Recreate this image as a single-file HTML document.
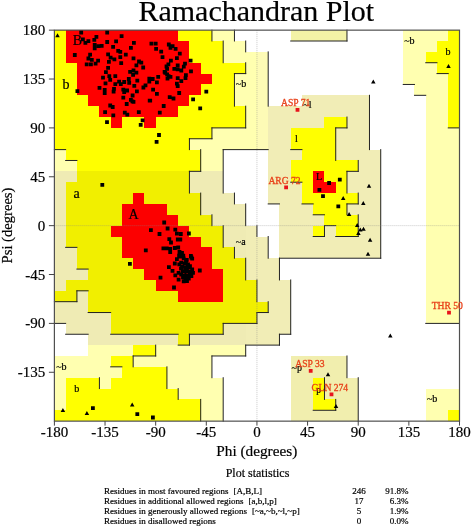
<!DOCTYPE html>
<html><head><meta charset="utf-8"><title>Ramachandran Plot</title>
<style>html,body{margin:0;padding:0;background:#fff}body{width:472px;height:528px;position:relative;overflow:hidden}</style>
</head><body>
<svg width="472" height="528" viewBox="0 0 472 528" style="position:absolute;left:0;top:0">
<rect x="0" y="0" width="472" height="528" fill="#fff"/>
<g shape-rendering="crispEdges">
<rect x="54.40" y="30.15" width="11.25" height="10.86" fill="#ffff00"/>
<rect x="65.65" y="30.15" width="112.53" height="10.86" fill="#ff0000"/>
<rect x="178.18" y="30.15" width="33.76" height="10.86" fill="#ffff00"/>
<rect x="211.94" y="30.15" width="22.51" height="10.86" fill="#ffffb0"/>
<rect x="290.71" y="30.15" width="56.26" height="10.86" fill="#f3f2a6"/>
<rect x="403.24" y="30.15" width="45.01" height="10.86" fill="#ffffb0"/>
<rect x="448.25" y="30.15" width="11.25" height="10.86" fill="#ffff00"/>
<rect x="54.40" y="41.01" width="11.25" height="10.86" fill="#ffff00"/>
<rect x="65.65" y="41.01" width="123.78" height="10.86" fill="#ff0000"/>
<rect x="189.43" y="41.01" width="33.76" height="10.86" fill="#ffff00"/>
<rect x="223.19" y="41.01" width="22.51" height="10.86" fill="#ffffb0"/>
<rect x="403.24" y="41.01" width="33.76" height="10.86" fill="#ffffb0"/>
<rect x="436.99" y="41.01" width="22.51" height="10.86" fill="#ffff00"/>
<rect x="54.40" y="51.87" width="11.25" height="10.86" fill="#ffff00"/>
<rect x="65.65" y="51.87" width="123.78" height="10.86" fill="#ff0000"/>
<rect x="189.43" y="51.87" width="33.76" height="10.86" fill="#ffff00"/>
<rect x="223.19" y="51.87" width="33.76" height="10.86" fill="#ffffb0"/>
<rect x="256.95" y="51.87" width="11.25" height="10.86" fill="#fdfbb6"/>
<rect x="403.24" y="51.87" width="22.51" height="10.86" fill="#ffffb0"/>
<rect x="425.74" y="51.87" width="33.76" height="10.86" fill="#ffff00"/>
<rect x="54.40" y="62.73" width="22.51" height="10.86" fill="#ffff00"/>
<rect x="76.91" y="62.73" width="123.78" height="10.86" fill="#ff0000"/>
<rect x="200.69" y="62.73" width="45.01" height="10.86" fill="#ffff00"/>
<rect x="245.70" y="62.73" width="11.25" height="10.86" fill="#ffffb0"/>
<rect x="256.95" y="62.73" width="11.25" height="10.86" fill="#fdfbb6"/>
<rect x="403.24" y="62.73" width="33.76" height="10.86" fill="#ffffb0"/>
<rect x="436.99" y="62.73" width="22.51" height="10.86" fill="#ffff00"/>
<rect x="54.40" y="73.59" width="22.51" height="10.86" fill="#ffff00"/>
<rect x="76.91" y="73.59" width="135.03" height="10.86" fill="#ff0000"/>
<rect x="211.94" y="73.59" width="22.51" height="10.86" fill="#ffff00"/>
<rect x="234.44" y="73.59" width="22.51" height="10.86" fill="#ffffb0"/>
<rect x="256.95" y="73.59" width="11.25" height="10.86" fill="#fdfbb6"/>
<rect x="403.24" y="73.59" width="45.01" height="10.86" fill="#ffffb0"/>
<rect x="448.25" y="73.59" width="11.25" height="10.86" fill="#ffff00"/>
<rect x="54.40" y="84.46" width="22.51" height="10.86" fill="#ffff00"/>
<rect x="76.91" y="84.46" width="123.78" height="10.86" fill="#ff0000"/>
<rect x="200.69" y="84.46" width="33.76" height="10.86" fill="#ffff00"/>
<rect x="234.44" y="84.46" width="22.51" height="10.86" fill="#ffffb0"/>
<rect x="256.95" y="84.46" width="11.25" height="10.86" fill="#fdfbb6"/>
<rect x="414.49" y="84.46" width="33.76" height="10.86" fill="#ffffb0"/>
<rect x="448.25" y="84.46" width="11.25" height="10.86" fill="#ffff00"/>
<rect x="54.40" y="95.32" width="33.76" height="10.86" fill="#ffff00"/>
<rect x="88.16" y="95.32" width="101.28" height="10.86" fill="#ff0000"/>
<rect x="189.43" y="95.32" width="45.01" height="10.86" fill="#ffff00"/>
<rect x="234.44" y="95.32" width="22.51" height="10.86" fill="#ffffb0"/>
<rect x="256.95" y="95.32" width="11.25" height="10.86" fill="#fdfbb6"/>
<rect x="301.96" y="95.32" width="67.52" height="10.86" fill="#f1edb6"/>
<rect x="425.74" y="95.32" width="22.51" height="10.86" fill="#ffffb0"/>
<rect x="448.25" y="95.32" width="11.25" height="10.86" fill="#ffff00"/>
<rect x="54.40" y="106.18" width="45.01" height="10.86" fill="#ffff00"/>
<rect x="99.41" y="106.18" width="78.77" height="10.86" fill="#ff0000"/>
<rect x="178.18" y="106.18" width="67.52" height="10.86" fill="#ffff00"/>
<rect x="245.70" y="106.18" width="11.25" height="10.86" fill="#ffffb0"/>
<rect x="256.95" y="106.18" width="11.25" height="10.86" fill="#fdfbb6"/>
<rect x="268.20" y="106.18" width="101.28" height="10.86" fill="#f1edb6"/>
<rect x="425.74" y="106.18" width="22.51" height="10.86" fill="#ffffb0"/>
<rect x="448.25" y="106.18" width="11.25" height="10.86" fill="#ffff00"/>
<rect x="54.40" y="117.04" width="56.26" height="10.86" fill="#ffff00"/>
<rect x="110.66" y="117.04" width="11.25" height="10.86" fill="#ff0000"/>
<rect x="121.92" y="117.04" width="22.51" height="10.86" fill="#ffff00"/>
<rect x="144.42" y="117.04" width="11.25" height="10.86" fill="#ff0000"/>
<rect x="155.68" y="117.04" width="90.02" height="10.86" fill="#ffff00"/>
<rect x="245.70" y="117.04" width="11.25" height="10.86" fill="#ffffb0"/>
<rect x="256.95" y="117.04" width="11.25" height="10.86" fill="#fdfbb6"/>
<rect x="268.20" y="117.04" width="56.26" height="10.86" fill="#f1edb6"/>
<rect x="324.47" y="117.04" width="22.51" height="10.86" fill="#ffff00"/>
<rect x="346.97" y="117.04" width="22.51" height="10.86" fill="#f1edb6"/>
<rect x="425.74" y="117.04" width="22.51" height="10.86" fill="#ffffb0"/>
<rect x="448.25" y="117.04" width="11.25" height="10.86" fill="#ffff00"/>
<rect x="54.40" y="127.90" width="157.54" height="10.86" fill="#ffff00"/>
<rect x="211.94" y="127.90" width="45.01" height="10.86" fill="#ffffb0"/>
<rect x="256.95" y="127.90" width="11.25" height="10.86" fill="#fdfbb6"/>
<rect x="268.20" y="127.90" width="22.51" height="10.86" fill="#f1edb6"/>
<rect x="290.71" y="127.90" width="45.01" height="10.86" fill="#ffff00"/>
<rect x="335.72" y="127.90" width="33.76" height="10.86" fill="#f1edb6"/>
<rect x="425.74" y="127.90" width="33.76" height="10.86" fill="#ffffb0"/>
<rect x="54.40" y="138.76" width="135.03" height="10.86" fill="#ffff00"/>
<rect x="189.43" y="138.76" width="67.52" height="10.86" fill="#ffffb0"/>
<rect x="256.95" y="138.76" width="11.25" height="10.86" fill="#fdfbb6"/>
<rect x="268.20" y="138.76" width="22.51" height="10.86" fill="#f1edb6"/>
<rect x="290.71" y="138.76" width="45.01" height="10.86" fill="#ffff00"/>
<rect x="335.72" y="138.76" width="33.76" height="10.86" fill="#f1edb6"/>
<rect x="425.74" y="138.76" width="33.76" height="10.86" fill="#ffffb0"/>
<rect x="54.40" y="149.62" width="11.25" height="10.86" fill="#ffffb0"/>
<rect x="65.65" y="149.62" width="135.03" height="10.86" fill="#ffff00"/>
<rect x="200.69" y="149.62" width="22.51" height="10.86" fill="#ffffb0"/>
<rect x="268.20" y="149.62" width="33.76" height="10.86" fill="#f1edb6"/>
<rect x="301.96" y="149.62" width="33.76" height="10.86" fill="#ffff00"/>
<rect x="335.72" y="149.62" width="45.01" height="10.86" fill="#f1edb6"/>
<rect x="425.74" y="149.62" width="33.76" height="10.86" fill="#ffffb0"/>
<rect x="54.40" y="160.48" width="22.51" height="10.86" fill="#ffffb0"/>
<rect x="76.91" y="160.48" width="123.78" height="10.86" fill="#ffff00"/>
<rect x="200.69" y="160.48" width="22.51" height="10.86" fill="#ffffb0"/>
<rect x="268.20" y="160.48" width="22.51" height="10.86" fill="#f1edb6"/>
<rect x="290.71" y="160.48" width="67.52" height="10.86" fill="#ffff00"/>
<rect x="358.22" y="160.48" width="22.51" height="10.86" fill="#f1edb6"/>
<rect x="425.74" y="160.48" width="33.76" height="10.86" fill="#ffffb0"/>
<rect x="54.40" y="171.34" width="22.51" height="10.86" fill="#efebb4"/>
<rect x="76.91" y="171.34" width="112.53" height="10.86" fill="#f1ef00"/>
<rect x="189.43" y="171.34" width="33.76" height="10.86" fill="#efebb4"/>
<rect x="268.20" y="171.34" width="22.51" height="10.86" fill="#f1edb6"/>
<rect x="290.71" y="171.34" width="22.51" height="10.86" fill="#ffff00"/>
<rect x="313.21" y="171.34" width="11.25" height="10.86" fill="#ff0000"/>
<rect x="324.47" y="171.34" width="22.51" height="10.86" fill="#ffff00"/>
<rect x="346.97" y="171.34" width="33.76" height="10.86" fill="#f1edb6"/>
<rect x="425.74" y="171.34" width="33.76" height="10.86" fill="#ffffb0"/>
<rect x="54.40" y="182.21" width="11.25" height="10.86" fill="#efebb4"/>
<rect x="65.65" y="182.21" width="123.78" height="10.86" fill="#f1ef00"/>
<rect x="189.43" y="182.21" width="33.76" height="10.86" fill="#efebb4"/>
<rect x="268.20" y="182.21" width="33.76" height="10.86" fill="#f1edb6"/>
<rect x="301.96" y="182.21" width="11.25" height="10.86" fill="#ffff00"/>
<rect x="313.21" y="182.21" width="22.51" height="10.86" fill="#ff0000"/>
<rect x="335.72" y="182.21" width="11.25" height="10.86" fill="#ffff00"/>
<rect x="346.97" y="182.21" width="33.76" height="10.86" fill="#f1edb6"/>
<rect x="425.74" y="182.21" width="33.76" height="10.86" fill="#ffffb0"/>
<rect x="54.40" y="193.07" width="11.25" height="10.86" fill="#efebb4"/>
<rect x="65.65" y="193.07" width="67.52" height="10.86" fill="#f1ef00"/>
<rect x="133.17" y="193.07" width="11.25" height="10.86" fill="#fc0000"/>
<rect x="144.42" y="193.07" width="56.26" height="10.86" fill="#f1ef00"/>
<rect x="200.69" y="193.07" width="33.76" height="10.86" fill="#efebb4"/>
<rect x="268.20" y="193.07" width="33.76" height="10.86" fill="#f1edb6"/>
<rect x="301.96" y="193.07" width="56.26" height="10.86" fill="#ffff00"/>
<rect x="358.22" y="193.07" width="22.51" height="10.86" fill="#f1edb6"/>
<rect x="425.74" y="193.07" width="33.76" height="10.86" fill="#ffffb0"/>
<rect x="54.40" y="203.93" width="11.25" height="10.86" fill="#efebb4"/>
<rect x="65.65" y="203.93" width="56.26" height="10.86" fill="#f1ef00"/>
<rect x="121.92" y="203.93" width="45.01" height="10.86" fill="#fc0000"/>
<rect x="166.93" y="203.93" width="33.76" height="10.86" fill="#f1ef00"/>
<rect x="200.69" y="203.93" width="45.01" height="10.86" fill="#efebb4"/>
<rect x="279.46" y="203.93" width="33.76" height="10.86" fill="#f1edb6"/>
<rect x="313.21" y="203.93" width="33.76" height="10.86" fill="#ffff00"/>
<rect x="346.97" y="203.93" width="33.76" height="10.86" fill="#f1edb6"/>
<rect x="425.74" y="203.93" width="33.76" height="10.86" fill="#ffffb0"/>
<rect x="54.40" y="214.79" width="11.25" height="10.86" fill="#efebb4"/>
<rect x="65.65" y="214.79" width="56.26" height="10.86" fill="#f1ef00"/>
<rect x="121.92" y="214.79" width="56.26" height="10.86" fill="#fc0000"/>
<rect x="178.18" y="214.79" width="33.76" height="10.86" fill="#f1ef00"/>
<rect x="211.94" y="214.79" width="33.76" height="10.86" fill="#efebb4"/>
<rect x="279.46" y="214.79" width="45.01" height="10.86" fill="#f1edb6"/>
<rect x="324.47" y="214.79" width="33.76" height="10.86" fill="#ffff00"/>
<rect x="358.22" y="214.79" width="22.51" height="10.86" fill="#f1edb6"/>
<rect x="425.74" y="214.79" width="33.76" height="10.86" fill="#ffffb0"/>
<rect x="54.40" y="225.65" width="11.25" height="10.86" fill="#efebb4"/>
<rect x="65.65" y="225.65" width="45.01" height="10.86" fill="#f1ef00"/>
<rect x="110.66" y="225.65" width="78.77" height="10.86" fill="#fc0000"/>
<rect x="189.43" y="225.65" width="33.76" height="10.86" fill="#f1ef00"/>
<rect x="223.19" y="225.65" width="22.51" height="10.86" fill="#efebb4"/>
<rect x="245.70" y="225.65" width="11.25" height="10.86" fill="#f1edb6"/>
<rect x="279.46" y="225.65" width="33.76" height="10.86" fill="#f1edb6"/>
<rect x="313.21" y="225.65" width="11.25" height="10.86" fill="#ffff00"/>
<rect x="324.47" y="225.65" width="11.25" height="10.86" fill="#f1edb6"/>
<rect x="335.72" y="225.65" width="22.51" height="10.86" fill="#ffff00"/>
<rect x="358.22" y="225.65" width="22.51" height="10.86" fill="#f1edb6"/>
<rect x="425.74" y="225.65" width="33.76" height="10.86" fill="#ffffb0"/>
<rect x="54.40" y="236.51" width="11.25" height="10.86" fill="#efebb4"/>
<rect x="65.65" y="236.51" width="56.26" height="10.86" fill="#f1ef00"/>
<rect x="121.92" y="236.51" width="78.77" height="10.86" fill="#fc0000"/>
<rect x="200.69" y="236.51" width="22.51" height="10.86" fill="#f1ef00"/>
<rect x="223.19" y="236.51" width="22.51" height="10.86" fill="#efebb4"/>
<rect x="245.70" y="236.51" width="22.51" height="10.86" fill="#f1edb6"/>
<rect x="279.46" y="236.51" width="101.28" height="10.86" fill="#f1edb6"/>
<rect x="425.74" y="236.51" width="33.76" height="10.86" fill="#ffffb0"/>
<rect x="54.40" y="247.37" width="22.51" height="10.86" fill="#efebb4"/>
<rect x="76.91" y="247.37" width="45.01" height="10.86" fill="#f1ef00"/>
<rect x="121.92" y="247.37" width="90.02" height="10.86" fill="#fc0000"/>
<rect x="211.94" y="247.37" width="22.51" height="10.86" fill="#f1ef00"/>
<rect x="234.44" y="247.37" width="11.25" height="10.86" fill="#efebb4"/>
<rect x="245.70" y="247.37" width="22.51" height="10.86" fill="#f1edb6"/>
<rect x="279.46" y="247.37" width="101.28" height="10.86" fill="#f1edb6"/>
<rect x="425.74" y="247.37" width="33.76" height="10.86" fill="#ffffb0"/>
<rect x="54.40" y="258.23" width="22.51" height="10.86" fill="#efebb4"/>
<rect x="76.91" y="258.23" width="56.26" height="10.86" fill="#f1ef00"/>
<rect x="133.17" y="258.23" width="78.77" height="10.86" fill="#fc0000"/>
<rect x="211.94" y="258.23" width="33.76" height="10.86" fill="#f1ef00"/>
<rect x="245.70" y="258.23" width="33.76" height="10.86" fill="#f1edb6"/>
<rect x="425.74" y="258.23" width="33.76" height="10.86" fill="#ffffb0"/>
<rect x="54.40" y="269.09" width="33.76" height="10.86" fill="#efebb4"/>
<rect x="88.16" y="269.09" width="56.26" height="10.86" fill="#f1ef00"/>
<rect x="144.42" y="269.09" width="78.77" height="10.86" fill="#fc0000"/>
<rect x="223.19" y="269.09" width="22.51" height="10.86" fill="#f1ef00"/>
<rect x="245.70" y="269.09" width="33.76" height="10.86" fill="#f1edb6"/>
<rect x="425.74" y="269.09" width="33.76" height="10.86" fill="#ffffb0"/>
<rect x="54.40" y="279.96" width="11.25" height="10.86" fill="#efebb4"/>
<rect x="65.65" y="279.96" width="90.02" height="10.86" fill="#f1ef00"/>
<rect x="155.68" y="279.96" width="67.52" height="10.86" fill="#fc0000"/>
<rect x="223.19" y="279.96" width="33.76" height="10.86" fill="#f1ef00"/>
<rect x="256.95" y="279.96" width="33.76" height="10.86" fill="#f1edb6"/>
<rect x="425.74" y="279.96" width="33.76" height="10.86" fill="#ffffb0"/>
<rect x="54.40" y="290.82" width="22.51" height="10.86" fill="#f1ef00"/>
<rect x="76.91" y="290.82" width="11.25" height="10.86" fill="#efebb4"/>
<rect x="88.16" y="290.82" width="90.02" height="10.86" fill="#f1ef00"/>
<rect x="178.18" y="290.82" width="45.01" height="10.86" fill="#fc0000"/>
<rect x="223.19" y="290.82" width="33.76" height="10.86" fill="#f1ef00"/>
<rect x="256.95" y="290.82" width="33.76" height="10.86" fill="#f1edb6"/>
<rect x="425.74" y="290.82" width="33.76" height="10.86" fill="#ffffb0"/>
<rect x="54.40" y="301.68" width="33.76" height="10.86" fill="#efebb4"/>
<rect x="88.16" y="301.68" width="180.04" height="10.86" fill="#f1ef00"/>
<rect x="268.20" y="301.68" width="22.51" height="10.86" fill="#f1edb6"/>
<rect x="425.74" y="301.68" width="33.76" height="10.86" fill="#ffffb0"/>
<rect x="54.40" y="312.54" width="56.26" height="10.86" fill="#efebb4"/>
<rect x="110.66" y="312.54" width="146.29" height="10.86" fill="#f1ef00"/>
<rect x="256.95" y="312.54" width="33.76" height="10.86" fill="#f1edb6"/>
<rect x="425.74" y="312.54" width="33.76" height="10.86" fill="#ffffb0"/>
<rect x="65.65" y="323.40" width="45.01" height="10.86" fill="#efebb4"/>
<rect x="110.66" y="323.40" width="112.53" height="10.86" fill="#f1ef00"/>
<rect x="223.19" y="323.40" width="22.51" height="10.86" fill="#efebb4"/>
<rect x="245.70" y="323.40" width="45.01" height="10.86" fill="#f1edb6"/>
<rect x="88.16" y="334.26" width="90.02" height="10.86" fill="#efebb4"/>
<rect x="178.18" y="334.26" width="11.25" height="10.86" fill="#f1ef00"/>
<rect x="189.43" y="334.26" width="56.26" height="10.86" fill="#efebb4"/>
<rect x="245.70" y="334.26" width="33.76" height="10.86" fill="#f1edb6"/>
<rect x="88.16" y="345.12" width="45.01" height="10.86" fill="#ffffb0"/>
<rect x="133.17" y="345.12" width="22.51" height="10.86" fill="#ffff00"/>
<rect x="155.68" y="345.12" width="90.02" height="10.86" fill="#ffffb0"/>
<rect x="54.40" y="355.98" width="56.26" height="10.86" fill="#ffffb0"/>
<rect x="110.66" y="355.98" width="22.51" height="10.86" fill="#ffff00"/>
<rect x="133.17" y="355.98" width="78.77" height="10.86" fill="#ffffb0"/>
<rect x="290.71" y="355.98" width="56.26" height="10.86" fill="#f1eeae"/>
<rect x="54.40" y="366.84" width="67.52" height="10.86" fill="#ffffb0"/>
<rect x="121.92" y="366.84" width="45.01" height="10.86" fill="#ffff00"/>
<rect x="166.93" y="366.84" width="45.01" height="10.86" fill="#ffffb0"/>
<rect x="290.71" y="366.84" width="56.26" height="10.86" fill="#f1eeae"/>
<rect x="54.40" y="377.71" width="11.25" height="10.86" fill="#ffffb0"/>
<rect x="65.65" y="377.71" width="33.76" height="10.86" fill="#ffff00"/>
<rect x="99.41" y="377.71" width="11.25" height="10.86" fill="#ffffb0"/>
<rect x="110.66" y="377.71" width="56.26" height="10.86" fill="#ffff00"/>
<rect x="166.93" y="377.71" width="56.26" height="10.86" fill="#ffffb0"/>
<rect x="290.71" y="377.71" width="22.51" height="10.86" fill="#f1eeae"/>
<rect x="313.21" y="377.71" width="11.25" height="10.86" fill="#ffff00"/>
<rect x="324.47" y="377.71" width="33.76" height="10.86" fill="#f1eeae"/>
<rect x="54.40" y="388.57" width="11.25" height="10.86" fill="#ffffb0"/>
<rect x="65.65" y="388.57" width="112.53" height="10.86" fill="#ffff00"/>
<rect x="178.18" y="388.57" width="45.01" height="10.86" fill="#ffffb0"/>
<rect x="290.71" y="388.57" width="22.51" height="10.86" fill="#f1eeae"/>
<rect x="313.21" y="388.57" width="11.25" height="10.86" fill="#ffff00"/>
<rect x="324.47" y="388.57" width="33.76" height="10.86" fill="#f1eeae"/>
<rect x="425.74" y="388.57" width="33.76" height="10.86" fill="#ffffb0"/>
<rect x="54.40" y="399.43" width="11.25" height="10.86" fill="#ffffb0"/>
<rect x="65.65" y="399.43" width="135.03" height="10.86" fill="#ffff00"/>
<rect x="200.69" y="399.43" width="22.51" height="10.86" fill="#ffffb0"/>
<rect x="290.71" y="399.43" width="22.51" height="10.86" fill="#f1eeae"/>
<rect x="313.21" y="399.43" width="22.51" height="10.86" fill="#ffff00"/>
<rect x="335.72" y="399.43" width="22.51" height="10.86" fill="#f1eeae"/>
<rect x="425.74" y="399.43" width="33.76" height="10.86" fill="#ffffb0"/>
<rect x="54.40" y="410.29" width="146.29" height="10.86" fill="#ffff00"/>
<rect x="200.69" y="410.29" width="22.51" height="10.86" fill="#ffffb0"/>
<rect x="290.71" y="410.29" width="67.52" height="10.86" fill="#f1eeae"/>
<rect x="425.74" y="410.29" width="22.51" height="10.86" fill="#ffffb0"/>
<rect x="448.25" y="410.29" width="11.25" height="10.86" fill="#ffff00"/>
</g>
<path d="M76.91 290.82V301.68M99.41 377.71V388.57M133.17 355.98V366.84M155.68 345.12V355.98M166.93 366.84V388.57M178.18 388.57V399.43M189.43 138.76V149.62M189.43 171.34V193.07M189.43 334.26V345.12M200.69 149.62V171.34M200.69 193.07V214.79M200.69 399.43V421.15M211.94 30.15V41.01M211.94 127.90V138.76M211.94 214.79V225.65M211.94 355.98V377.71M223.19 41.01V62.73M223.19 149.62V193.07M223.19 225.65V247.37M223.19 323.40V334.26M223.19 377.71V421.15M234.44 30.15V41.01M234.44 73.59V106.18M234.44 193.07V203.93M234.44 247.37V258.23M245.70 41.01V51.87M245.70 62.73V73.59M245.70 106.18V127.90M245.70 203.93V225.65M245.70 258.23V279.96M245.70 345.12V355.98M256.95 225.65V236.51M256.95 279.96V301.68M256.95 312.54V323.40M268.20 51.87V106.18M268.20 236.51V258.23M268.20 301.68V312.54M279.46 258.23V279.96M279.46 334.26V345.12M290.71 279.96V334.26M324.47 225.65V236.51M324.47 377.71V399.43M335.72 127.90V160.48M335.72 399.43V410.29M346.97 30.15V41.01M346.97 117.04V127.90M346.97 171.34V193.07M346.97 203.93V214.79M346.97 355.98V377.71M358.22 160.48V171.34M358.22 193.07V203.93M358.22 214.79V236.51M358.22 377.71V421.15M369.48 95.32V149.62M380.73 149.62V258.23M290.71 41.01H346.97M425.74 62.73H436.99M234.44 73.59H245.70M436.99 73.59H448.25M403.24 84.46H414.49M414.49 95.32H425.74M211.94 127.90H245.70M335.72 127.90H346.97M448.25 127.90H459.50M189.43 138.76H211.94M54.40 149.62H65.65M223.19 149.62H268.20M290.71 149.62H301.96M65.65 160.48H76.91M189.43 171.34H200.69M346.97 171.34H358.22M290.71 182.21H301.96M268.20 203.93H279.46M301.96 203.93H313.21M346.97 203.93H358.22M313.21 214.79H324.47M324.47 225.65H335.72M313.21 236.51H324.47M335.72 236.51H358.22M65.65 247.37H76.91M279.46 258.23H380.73M76.91 269.09H88.16M76.91 290.82H88.16M54.40 301.68H76.91M88.16 312.54H110.66M256.95 312.54H268.20M54.40 323.40H65.65M223.19 323.40H256.95M425.74 323.40H459.50M65.65 334.26H88.16M110.66 334.26H178.18M189.43 334.26H223.19M279.46 334.26H290.71M178.18 345.12H189.43M245.70 345.12H279.46M133.17 355.98H155.68M211.94 355.98H245.70M110.66 366.84H121.92M313.21 410.29H335.72" stroke="#222" stroke-width="1" fill="none" stroke-linecap="square"/>
<line x1="256.95" y1="30.15" x2="256.95" y2="421.15" stroke="#888" stroke-opacity="0.55" stroke-width="0.8" stroke-dasharray="1 1"/>
<line x1="54.4" y1="225.65" x2="459.5" y2="225.65" stroke="#888" stroke-opacity="0.55" stroke-width="0.8" stroke-dasharray="1 1"/>
<rect x="54.4" y="30.15" width="405.1" height="391" fill="none" stroke="#505050" stroke-width="1.2"/>
<path d="M48.90 30.15H54.4M54.40 421.15V425.65M48.90 79.03H54.4M105.04 421.15V425.65M48.90 127.90H54.4M155.68 421.15V425.65M48.90 176.78H54.4M206.31 421.15V425.65M48.90 225.65H54.4M256.95 421.15V425.65M48.90 274.52H54.4M307.59 421.15V425.65M48.90 323.40H54.4M358.23 421.15V425.65M48.90 372.27H54.4M408.86 421.15V425.65M459.50 421.15V425.65" stroke="#444" stroke-width="1" fill="none"/>
<path d="M79.3 30.8h3.8v3.8h-3.8zM81.0 37.5h3.8v3.8h-3.8zM83.5 40.9h3.8v3.8h-3.8zM86.5 39.2h3.8v3.8h-3.8zM92.4 38.0h3.8v3.8h-3.8zM94.5 35.0h3.8v3.8h-3.8zM92.8 43.0h3.8v3.8h-3.8zM92.8 46.4h3.8v3.8h-3.8zM96.7 44.3h3.8v3.8h-3.8zM72.9 53.1h3.8v3.8h-3.8zM88.2 52.8h3.8v3.8h-3.8zM86.5 56.6h3.8v3.8h-3.8zM89.9 57.9h3.8v3.8h-3.8zM84.8 62.5h3.8v3.8h-3.8zM89.0 62.5h3.8v3.8h-3.8zM93.7 61.7h3.8v3.8h-3.8zM96.2 58.7h3.8v3.8h-3.8zM105.3 30.8h3.8v3.8h-3.8zM119.7 34.2h3.8v3.8h-3.8zM105.3 40.1h3.8v3.8h-3.8zM114.2 39.5h3.8v3.8h-3.8zM132.0 40.9h3.8v3.8h-3.8zM99.8 43.9h3.8v3.8h-3.8zM111.2 44.9h3.8v3.8h-3.8zM129.0 46.0h3.8v3.8h-3.8zM116.3 49.0h3.8v3.8h-3.8zM118.4 49.9h3.8v3.8h-3.8zM106.2 52.4h3.8v3.8h-3.8zM123.9 52.8h3.8v3.8h-3.8zM108.7 55.8h3.8v3.8h-3.8zM118.4 55.3h3.8v3.8h-3.8zM112.5 57.5h3.8v3.8h-3.8zM131.6 56.4h3.8v3.8h-3.8zM107.0 60.0h3.8v3.8h-3.8zM119.3 61.3h3.8v3.8h-3.8zM137.1 59.6h3.8v3.8h-3.8zM134.5 63.4h3.8v3.8h-3.8zM106.2 65.9h3.8v3.8h-3.8zM149.5 41.8h3.8v3.8h-3.8zM153.8 41.8h3.8v3.8h-3.8zM154.2 46.9h3.8v3.8h-3.8zM159.3 49.7h3.8v3.8h-3.8zM160.6 55.3h3.8v3.8h-3.8zM166.9 42.6h3.8v3.8h-3.8zM168.6 46.0h3.8v3.8h-3.8zM173.7 46.9h3.8v3.8h-3.8zM170.7 44.3h3.8v3.8h-3.8zM177.9 51.7h3.8v3.8h-3.8zM175.0 56.2h3.8v3.8h-3.8zM169.0 58.7h3.8v3.8h-3.8zM166.5 62.5h3.8v3.8h-3.8zM139.4 60.8h3.8v3.8h-3.8zM141.3 65.6h3.8v3.8h-3.8zM175.8 63.4h3.8v3.8h-3.8zM75.5 89.2h3.8v3.8h-3.8zM97.6 85.9h3.8v3.8h-3.8zM104.0 70.3h3.8v3.8h-3.8zM101.1 75.8h3.8v3.8h-3.8zM107.4 74.2h3.8v3.8h-3.8zM108.3 78.0h3.8v3.8h-3.8zM113.4 74.2h3.8v3.8h-3.8zM103.6 81.4h3.8v3.8h-3.8zM113.4 82.2h3.8v3.8h-3.8zM117.2 79.7h3.8v3.8h-3.8zM118.9 82.2h3.8v3.8h-3.8zM122.3 80.1h3.8v3.8h-3.8zM126.9 77.1h3.8v3.8h-3.8zM127.3 80.9h3.8v3.8h-3.8zM128.2 69.9h3.8v3.8h-3.8zM131.6 68.6h3.8v3.8h-3.8zM134.5 70.8h3.8v3.8h-3.8zM131.2 72.9h3.8v3.8h-3.8zM135.4 78.8h3.8v3.8h-3.8zM132.4 83.9h3.8v3.8h-3.8zM102.8 88.1h3.8v3.8h-3.8zM102.8 91.1h3.8v3.8h-3.8zM112.1 86.9h3.8v3.8h-3.8zM111.7 89.8h3.8v3.8h-3.8zM121.4 87.7h3.8v3.8h-3.8zM122.3 90.3h3.8v3.8h-3.8zM125.2 88.6h3.8v3.8h-3.8zM135.0 89.4h3.8v3.8h-3.8zM121.4 95.8h3.8v3.8h-3.8zM130.7 93.6h3.8v3.8h-3.8zM129.0 97.9h3.8v3.8h-3.8zM131.6 100.0h3.8v3.8h-3.8zM124.8 102.1h3.8v3.8h-3.8zM108.3 103.6h3.8v3.8h-3.8zM110.8 105.1h3.8v3.8h-3.8zM165.2 66.9h3.8v3.8h-3.8zM162.7 69.9h3.8v3.8h-3.8zM165.2 72.5h3.8v3.8h-3.8zM172.4 66.9h3.8v3.8h-3.8zM175.8 67.4h3.8v3.8h-3.8zM156.3 75.0h3.8v3.8h-3.8zM168.6 75.0h3.8v3.8h-3.8zM165.6 76.7h3.8v3.8h-3.8zM175.8 76.3h3.8v3.8h-3.8zM147.4 76.7h3.8v3.8h-3.8zM150.8 77.1h3.8v3.8h-3.8zM147.4 79.7h3.8v3.8h-3.8zM155.0 80.5h3.8v3.8h-3.8zM175.0 81.8h3.8v3.8h-3.8zM175.8 84.3h3.8v3.8h-3.8zM143.6 83.5h3.8v3.8h-3.8zM141.5 85.6h3.8v3.8h-3.8zM151.2 87.7h3.8v3.8h-3.8zM155.0 91.9h3.8v3.8h-3.8zM177.3 91.1h3.8v3.8h-3.8zM167.8 95.3h3.8v3.8h-3.8zM171.6 96.6h3.8v3.8h-3.8zM147.8 98.7h3.8v3.8h-3.8zM161.8 104.1h3.8v3.8h-3.8zM188.7 58.7h3.8v3.8h-3.8zM183.1 61.7h3.8v3.8h-3.8zM181.9 64.7h3.8v3.8h-3.8zM204.4 89.8h3.8v3.8h-3.8zM191.2 97.4h3.8v3.8h-3.8zM198.3 106.5h3.8v3.8h-3.8zM189.1 69.5h3.8v3.8h-3.8zM184.0 73.3h3.8v3.8h-3.8zM183.6 76.3h3.8v3.8h-3.8zM179.4 79.2h3.8v3.8h-3.8zM179.4 68.6h3.8v3.8h-3.8zM103.2 110.2h3.8v3.8h-3.8zM111.4 113.4h3.8v3.8h-3.8zM105.1 120.3h3.8v3.8h-3.8zM124.8 101.9h3.8v3.8h-3.8zM130.5 99.4h3.8v3.8h-3.8zM122.9 110.8h3.8v3.8h-3.8zM125.4 112.7h3.8v3.8h-3.8zM136.9 110.2h3.8v3.8h-3.8zM148.3 98.7h3.8v3.8h-3.8zM140.7 118.4h3.8v3.8h-3.8zM138.8 122.9h3.8v3.8h-3.8zM157.1 133.1h3.8v3.8h-3.8zM154.7 140.0h3.8v3.8h-3.8zM157.9 110.8h3.8v3.8h-3.8zM100.4 182.9h3.8v3.8h-3.8zM149.0 228.3h3.8v3.8h-3.8zM157.6 232.1h3.8v3.8h-3.8zM143.9 248.4h3.8v3.8h-3.8zM162.3 220.6h3.8v3.8h-3.8zM165.7 226.6h3.8v3.8h-3.8zM173.4 227.8h3.8v3.8h-3.8zM175.0 231.7h3.8v3.8h-3.8zM178.9 232.1h3.8v3.8h-3.8zM187.0 231.6h3.8v3.8h-3.8zM167.4 237.2h3.8v3.8h-3.8zM169.1 240.6h3.8v3.8h-3.8zM175.9 237.6h3.8v3.8h-3.8zM178.4 237.6h3.8v3.8h-3.8zM161.5 246.5h3.8v3.8h-3.8zM164.9 246.5h3.8v3.8h-3.8zM168.3 246.9h3.8v3.8h-3.8zM172.9 246.1h3.8v3.8h-3.8zM176.3 245.6h3.8v3.8h-3.8zM168.3 250.3h3.8v3.8h-3.8zM177.6 249.9h3.8v3.8h-3.8zM180.1 251.1h3.8v3.8h-3.8zM177.2 253.7h3.8v3.8h-3.8zM181.4 253.7h3.8v3.8h-3.8zM189.0 254.1h3.8v3.8h-3.8zM190.3 256.7h3.8v3.8h-3.8zM167.0 265.3h3.8v3.8h-3.8zM170.6 268.9h3.8v3.8h-3.8zM158.6 275.8h3.8v3.8h-3.8zM172.1 285.6h3.8v3.8h-3.8zM197.9 268.6h3.8v3.8h-3.8zM189.5 255.6h3.8v3.8h-3.8zM175.0 257.3h3.8v3.8h-3.8zM178.4 254.8h3.8v3.8h-3.8zM181.8 256.5h3.8v3.8h-3.8zM172.9 261.6h3.8v3.8h-3.8zM179.3 260.7h3.8v3.8h-3.8zM182.7 261.6h3.8v3.8h-3.8zM186.1 262.4h3.8v3.8h-3.8zM180.1 265.0h3.8v3.8h-3.8zM183.5 265.8h3.8v3.8h-3.8zM186.9 265.8h3.8v3.8h-3.8zM190.3 267.5h3.8v3.8h-3.8zM181.0 269.2h3.8v3.8h-3.8zM184.4 269.6h3.8v3.8h-3.8zM187.8 270.1h3.8v3.8h-3.8zM191.1 270.9h3.8v3.8h-3.8zM176.7 270.9h3.8v3.8h-3.8zM173.4 273.4h3.8v3.8h-3.8zM179.3 272.6h3.8v3.8h-3.8zM182.7 273.4h3.8v3.8h-3.8zM186.1 273.9h3.8v3.8h-3.8zM189.5 274.3h3.8v3.8h-3.8zM183.5 276.8h3.8v3.8h-3.8zM186.9 276.8h3.8v3.8h-3.8zM181.8 279.4h3.8v3.8h-3.8zM176.7 277.7h3.8v3.8h-3.8zM128.0 262.0h3.8v3.8h-3.8zM164.6 64.6h3.8v3.8h-3.8zM163.4 70.9h3.8v3.8h-3.8zM166.7 74.3h3.8v3.8h-3.8zM184.1 260.1h3.8v3.8h-3.8zM188.1 264.3h3.8v3.8h-3.8zM185.1 268.1h3.8v3.8h-3.8zM181.1 275.4h3.8v3.8h-3.8zM185.1 279.3h3.8v3.8h-3.8zM179.1 266.7h3.8v3.8h-3.8zM177.4 262.4h3.8v3.8h-3.8zM188.6 272.1h3.8v3.8h-3.8zM184.9 257.9h3.8v3.8h-3.8zM91.0 406.3h3.8v3.8h-3.8zM135.4 412.3h3.8v3.8h-3.8zM151.0 415.6h3.8v3.8h-3.8zM337.9 177.7h3.8v3.8h-3.8zM327.2 181.1h3.8v3.8h-3.8zM336.4 204.4h3.8v3.8h-3.8zM317.5 187.9h3.8v3.8h-3.8zM321.1 194.2h3.8v3.8h-3.8z" fill="#000"/>
<path d="M57.5 33.2l2.25 4.0h-4.5zM62.9 407.9l2.25 4.0h-4.5zM86.9 411.1l2.25 4.0h-4.5zM132.2 402.6l2.25 4.0h-4.5zM448.5 63.9l2.25 4.0h-4.5zM373.3 79.5l2.25 4.0h-4.5zM369.0 183.8l2.25 4.0h-4.5zM343.2 196.0l2.25 4.0h-4.5zM363.3 200.9l2.25 4.0h-4.5zM349.1 211.9l2.25 4.0h-4.5zM357.2 223.1l2.25 4.0h-4.5zM363.5 226.7l2.25 4.0h-4.5zM360.3 227.6l2.25 4.0h-4.5zM358.4 231.0l2.25 4.0h-4.5zM370.1 237.7l2.25 4.0h-4.5zM368.0 251.7l2.25 4.0h-4.5zM328.0 372.3l2.25 4.0h-4.5zM336.0 403.9l2.25 4.0h-4.5zM390.3 333.6l2.25 4.0h-4.5z" fill="#000"/>
<path d="M295.6 108.0h3.8v3.8h-3.8zM284.2 185.5h3.8v3.8h-3.8zM447.1 310.7h3.8v3.8h-3.8zM308.8 369.0h3.8v3.8h-3.8zM329.6 392.4h3.8v3.8h-3.8z" fill="#e8141c"/>
<g font-family="'Liberation Serif', serif" stroke="#000" stroke-width="0.2">
<text x="256.3" y="21.2" font-size="30" fill="#000" text-anchor="middle" >Ramachandran Plot</text>
<text x="45.3" y="35.1" font-size="15" fill="#000" text-anchor="end" >180</text>
<text x="45.3" y="84.0" font-size="15" fill="#000" text-anchor="end" >135</text>
<text x="45.3" y="132.9" font-size="15" fill="#000" text-anchor="end" >90</text>
<text x="45.3" y="181.8" font-size="15" fill="#000" text-anchor="end" >45</text>
<text x="45.3" y="230.7" font-size="15" fill="#000" text-anchor="end" >0</text>
<text x="45.3" y="279.5" font-size="15" fill="#000" text-anchor="end" >-45</text>
<text x="45.3" y="328.4" font-size="15" fill="#000" text-anchor="end" >-90</text>
<text x="45.3" y="377.3" font-size="15" fill="#000" text-anchor="end" >-135</text>
<text x="54.4" y="436.7" font-size="15" fill="#000" text-anchor="middle" >-180</text>
<text x="105.0" y="436.7" font-size="15" fill="#000" text-anchor="middle" >-135</text>
<text x="155.7" y="436.7" font-size="15" fill="#000" text-anchor="middle" >-90</text>
<text x="206.3" y="436.7" font-size="15" fill="#000" text-anchor="middle" >-45</text>
<text x="256.9" y="436.7" font-size="15" fill="#000" text-anchor="middle" >0</text>
<text x="307.6" y="436.7" font-size="15" fill="#000" text-anchor="middle" >45</text>
<text x="358.2" y="436.7" font-size="15" fill="#000" text-anchor="middle" >90</text>
<text x="408.9" y="436.7" font-size="15" fill="#000" text-anchor="middle" >135</text>
<text x="459.5" y="436.7" font-size="15" fill="#000" text-anchor="middle" >180</text>
<text x="256.8" y="456.0" font-size="15.25" fill="#000" text-anchor="middle" >Phi (degrees)</text>
<text transform="translate(12,225.5) rotate(-90)" font-size="14.6" text-anchor="middle">Psi (degrees)</text>
<text x="257.5" y="476.6" font-size="12" fill="#000" text-anchor="middle" >Plot statistics</text>
<text x="104.0" y="494.3" font-size="9">Residues in most favoured regions<tspan dx="5">[A,B,L]</tspan></text>
<text x="359" y="494.3" font-size="9" fill="#000" text-anchor="middle" >246</text>
<text x="408.5" y="494.3" font-size="9" fill="#000" text-anchor="end" >91.8%</text>
<text x="104.0" y="504.1" font-size="9">Residues in additional allowed regions<tspan dx="5">[a,b,l,p]</tspan></text>
<text x="359" y="504.1" font-size="9" fill="#000" text-anchor="middle" >17</text>
<text x="408.5" y="504.1" font-size="9" fill="#000" text-anchor="end" >6.3%</text>
<text x="104.0" y="513.9" font-size="9">Residues in generously allowed regions<tspan dx="5">[~a,~b,~l,~p]</tspan></text>
<text x="359" y="513.9" font-size="9" fill="#000" text-anchor="middle" >5</text>
<text x="408.5" y="513.9" font-size="9" fill="#000" text-anchor="end" >1.9%</text>
<text x="104.0" y="523.7" font-size="9">Residues in disallowed regions</text>
<text x="359" y="523.7" font-size="9" fill="#000" text-anchor="middle" >0</text>
<text x="408.5" y="523.7" font-size="9" fill="#000" text-anchor="end" >0.0%</text>
<text x="72.7" y="45.4" font-size="14" fill="#000" text-anchor="start" >B</text>
<text x="62.5" y="88.8" font-size="14" fill="#000" text-anchor="start" >b</text>
<text x="128.4" y="219.3" font-size="14" fill="#000" text-anchor="start" >A</text>
<text x="73.5" y="197.8" font-size="14" fill="#000" text-anchor="start" >a</text>
<text x="235.8" y="86.9" font-size="10" fill="#000" text-anchor="start" >~b</text>
<text x="235.8" y="244.9" font-size="10" fill="#000" text-anchor="start" >~a</text>
<text x="56.2" y="370.1" font-size="10" fill="#000" text-anchor="start" >~b</text>
<text x="74.2" y="391.6" font-size="10" fill="#000" text-anchor="start" >b</text>
<text x="404.2" y="44.1" font-size="10" fill="#000" text-anchor="start" >~b</text>
<text x="445.6" y="55.2" font-size="10" fill="#000" text-anchor="start" >b</text>
<text x="426.9" y="402.2" font-size="10" fill="#000" text-anchor="start" >~b</text>
<text x="295" y="141.8" font-size="10" fill="#000" text-anchor="start" >l</text>
<text x="315.9" y="179.9" font-size="10" fill="#000" text-anchor="start" >L</text>
<text x="303.3" y="108.0" font-size="10" fill="#000" text-anchor="start" >~l</text>
<text x="291.5" y="370.5" font-size="10" fill="#000" text-anchor="start" >~p</text>
<text x="316.2" y="393.0" font-size="9.5" fill="#000" text-anchor="start" >p</text>
<g stroke="#e8421a" stroke-width="0.3">
<text x="281" y="106.4" font-size="9.6" fill="#e8421a" text-anchor="start" >ASP 71</text>
<text x="268.4" y="183.8" font-size="9.6" fill="#e8421a" text-anchor="start" >ARG 72</text>
<text x="431.7" y="309" font-size="9.6" fill="#e8421a" text-anchor="start" >THR 50</text>
<text x="295.3" y="367.4" font-size="9.6" fill="#e8421a" text-anchor="start" >ASP 33</text>
<text x="311.6" y="390.7" font-size="9.6" fill="#e8421a" text-anchor="start" >GLN 274</text>
</g>
</g>
</svg>
</body></html>
